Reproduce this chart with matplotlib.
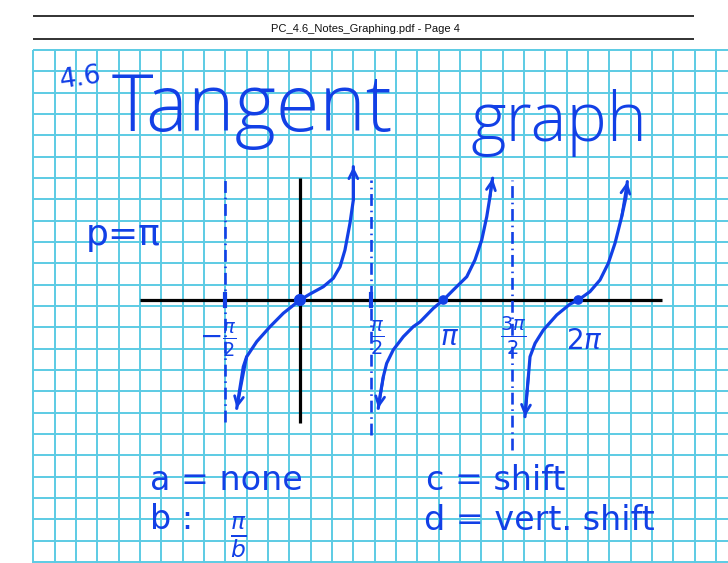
import matplotlib
matplotlib.use("Agg")
import matplotlib.pyplot as plt

# ---------------- data (x in units of pi, y in grid squares) ----------------
tick_values = [-0.5, 0.5, 1.0, 1.5, 2.0]
tick_labels = [r"$-\frac{\pi}{2}$", r"$\frac{\pi}{2}$", r"$\pi$", r"$\frac{3\pi}{2}$", r"$2\pi$"]

asymptote_x = [-0.536, 0.507, 1.514]
asymptote_top = [5.67, 5.63, 5.63]
asymptote_bottom = [-5.72, -6.33, -7.03]

zeros_x = [0.0, 1.024, 1.988]
zeros_y = [0.0, 0.0, 0.0]

branch1_x = [-0.452, -0.405, -0.381, -0.309, -0.214, -0.119, 0.0, 0.071, 0.166,
             0.238, 0.286, 0.321, 0.357, 0.381, 0.381, 0.381]
branch1_y = [-5.08, -3.13, -2.66, -1.95, -1.25, -0.62, 0.0, 0.28, 0.62,
             1.02, 1.56, 2.34, 3.60, 4.69, 5.63, 6.25]

branch2_x = [0.559, 0.571, 0.595, 0.619, 0.666, 0.738, 0.809, 0.857, 0.952,
             1.024, 1.095, 1.191, 1.250, 1.298, 1.334, 1.357, 1.369, 1.376]
branch2_y = [-5.08, -4.53, -3.60, -2.97, -2.34, -1.72, -1.25, -1.03, -0.39,
             0.0, 0.47, 1.09, 1.88, 2.81, 3.91, 4.84, 5.47, 5.71]

branch3_x = [1.607, 1.619, 1.631, 1.643, 1.679, 1.738, 1.834, 1.929, 1.988,
             2.071, 2.143, 2.202, 2.250, 2.298, 2.329, 2.338]
branch3_y = [-5.47, -4.53, -3.60, -2.66, -2.03, -1.41, -0.70, -0.19, 0.0,
             0.39, 0.94, 1.72, 2.66, 3.91, 4.84, 5.55]

x_axis_range = [-1.143, 2.586]
y_axis_range = [-5.77, 5.72]

header_text = "PC_4.6_Notes_Graphing.pdf - Page 4"
notes_left = ["a = none", "b :"]
notes_right = ["c = shift", "d = vert. shift"]

# ---------------- styles ----------------
INK = "#1240e6"
GRID = "#5ccbe4"
W, H = 728, 563

fig = plt.figure(figsize=(W / 100, H / 100), dpi=100)
fig.patch.set_facecolor("white")

# background "paper" axes in pixel units
bg = fig.add_axes([0, 0, 1, 1])
bg.set_xlim(0, W)
bg.set_ylim(H, 0)
bg.axis("off")

# header
bg.hlines([16, 38.7], 33, 694, color="#222222", lw=1.3)
bg.text(365, 29.5, header_text, ha="center", va="center", fontsize=8,
        family=["Liberation Sans", "DejaVu Sans"], color="#111111")

# grid paper
gx0, gy0, cell = 33.3, 50.0, 21.33
xs = [gx0 + k * cell for k in range(int((W - gx0) / cell) + 1)]
ys = [gy0 + k * cell for k in range(int((H - gy0) / cell) + 1)]
bg.vlines(xs, gy0, H, color=GRID, lw=1.4)
bg.hlines(ys, gx0, W, color=GRID, lw=1.4)

title_font = dict(color=INK, family=["Open Sans", "DejaVu Sans"], fontweight="light")
hand = dict(color=INK, family=["DejaVu Sans"], fontweight="normal")

# title & notes (handwritten text)
bg.text(58, 88, "4.6", fontsize=19, rotation=8, va="baseline", **hand)
bg.text(112, 131, "Tangent", fontsize=57, va="baseline", **title_font)
bg.text(471, 141, "graph", fontsize=49, va="baseline", **title_font)
bg.text(86, 245, "p=\u03c0", fontsize=26, va="baseline", **hand)

bg.text(150, 490, notes_left[0], fontsize=24, va="baseline", **hand)
bg.text(150, 529, notes_left[1], fontsize=24, va="baseline", **hand)
bg.text(238, 537, r"$\frac{\pi}{b}$", fontsize=24, ha="center", va="center", color=INK)
bg.text(426, 490, notes_right[0], fontsize=24, va="baseline", **hand)
bg.text(424, 530, notes_right[1], fontsize=24, va="baseline", **hand)

# ---------------- graph axes (x in pi units, y in grid squares) ----------------
ax = fig.add_axes([0, 0, 1, 1])
ax.set_xlim(-300 / 140, (W - 300) / 140)
ax.set_ylim((300 - H) / cell, 300 / cell)
ax.axis("off")
ax.patch.set_alpha(0)

# coordinate axes
ax.plot(x_axis_range, [0, 0], color="black", lw=2.3, solid_capstyle="butt")
ax.plot([0, 0], y_axis_range, color="black", lw=2.3, solid_capstyle="butt")

# asymptotes
for xa, yt, yb in zip(asymptote_x, asymptote_top, asymptote_bottom):
    ax.plot([xa, xa], [yb, yt], color=INK, lw=1.9, linestyle=(0, (4.5, 1.8, 0.6, 1.8)))
# small tick marks on the axis at +-pi/2
for xa in asymptote_x[:2]:
    ax.plot([xa, xa], [-0.3, 0.3], color=INK, lw=3.0)

# branches with arrows
for bx, by in [(branch1_x, branch1_y), (branch2_x, branch2_y), (branch3_x, branch3_y)]:
    ax.plot(bx, by, color=INK, lw=2.3, solid_capstyle="round", solid_joinstyle="round")
    arrow = dict(arrowstyle="->", color=INK, lw=2.0, mutation_scale=16,
                 shrinkA=0, shrinkB=0)
    ax.annotate("", xy=(bx[-1], by[-1]), xytext=(bx[-3], by[-3]), arrowprops=arrow)
    ax.annotate("", xy=(bx[0], by[0]), xytext=(bx[2], by[2]), arrowprops=arrow)

# zero crossings
ax.scatter(zeros_x, zeros_y, s=[60, 35, 35], color=INK, zorder=5)

# tick labels written under the axis
label_dx = [-0.09, 0.05, 0.07, 0.02, 0.03]
label_y = [-1.85, -1.75, -1.75, -1.7, -1.9]
for v, lab, dx, ly in zip(tick_values, tick_labels, label_dx, label_y):
    ax.text(v + dx, ly, lab, fontsize=20, ha="center", va="center", color=INK)

fig.savefig("out.png", dpi=100, facecolor="white")
